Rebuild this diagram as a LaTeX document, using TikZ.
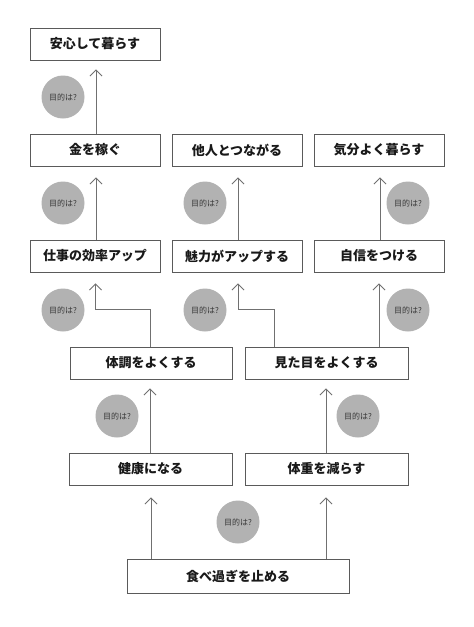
\documentclass[tikz,border=0pt]{standalone}
\usepackage{fontspec}
\newfontfamily\jp{Noto Sans CJK JP}
\usetikzlibrary{arrows.meta}
\definecolor{boxline}{HTML}{5A5A5A}
\definecolor{arrline}{HTML}{707070}
\definecolor{circfill}{HTML}{B2B2B2}
\definecolor{circtext}{HTML}{383838}
\tikzset{
  box/.style={draw=boxline, line width=0.9pt, fill=white, minimum width=130pt, minimum height=32pt, inner sep=0pt, font=\jp\bfseries\fontsize{13}{15}\selectfont, text=black!90},
  purpose/.style={circle, fill=circfill, minimum size=43pt, inner sep=0pt, font=\jp\fontsize{8}{9}\selectfont, text=circtext},
  arr/.style={draw=arrline, line width=0.9pt, -{Straight Barb[length=6pt,width=12pt,line width=0.9pt]}},
}
\begin{document}
\begin{tikzpicture}[x=1pt,y=-1pt]
\useasboundingbox (0,0) rectangle (474,627);
\fill[white] (0,0) rectangle (474,627);
% boxes
\node[box] (A) at (95,44) {安心して暮らす};
\node[box] (B) at (95,150) {金を稼ぐ};
\node[box] (C) at (237,150) {他人とつながる};
\node[box] (D) at (379,150) {気分よく暮らす};
\node[box] (E) at (95,256) {仕事の効率アップ};
\node[box] (F) at (237,256) {魅力がアップする};
\node[box] (G) at (379,256) {自信をつける};
\node[box, minimum width=162pt] (H) at (151,363) {体調をよくする};
\node[box, minimum width=163pt] (I) at (326.5,363) {見た目をよくする};
\node[box, minimum width=163pt] (J) at (150.5,469) {健康になる};
\node[box, minimum width=163pt] (K) at (326.5,469) {体重を減らす};
\node[box, minimum width=222pt, minimum height=34pt] (L) at (238,576) {食べ過ぎを止める};
% circles
\node[purpose] (p1) at (63,97) {目的は?};
\node[purpose] (p2) at (63,203) {目的は?};
\node[purpose] (p3) at (205,203) {目的は?};
\node[purpose] (p4) at (408,203) {目的は?};
\node[purpose] (p5) at (63,310) {目的は?};
\node[purpose] (p6) at (205,310) {目的は?};
\node[purpose] (p7) at (408,310) {目的は?};
\node[purpose] (p8) at (117,416) {目的は?};
\node[purpose] (p9) at (358,416) {目的は?};
\node[purpose] (p10) at (238,522) {目的は?};
% connectors
\coordinate (hy) at (0,309);
\draw[arr, shorten >=9pt] (B.north -| 96,0) -- (A.south -| 96,0);
\draw[arr, shorten >=11pt] (E.north -| 96,0) -- (B.south -| 96,0);
\draw[arr, shorten >=11pt] (F.north -| 238,0) -- (C.south -| 238,0);
\draw[arr, shorten >=11pt] (G.north -| 380,0) -- (D.south -| 380,0);
\draw[arr, shorten >=11pt] (H.north -| 150,0) |- (hy -| 150,0) -| (E.south -| 95.5,0);
\draw[arr, shorten >=11pt] (I.north -| 274,0) |- (hy -| 274,0) -| (F.south -| 238,0);
\draw[arr, shorten >=11pt] (I.north -| 379,0) -- (G.south -| 379,0);
\draw[arr, shorten >=9pt] (J.north -| 150,0) -- (H.south -| 150,0);
\draw[arr, shorten >=9pt] (K.north -| 326,0) -- (I.south -| 326,0);
\draw[arr, shorten >=12pt] (L.north -| 151,0) -- (J.south -| 151,0);
\draw[arr, shorten >=12pt] (L.north -| 326,0) -- (K.south -| 326,0);
\end{tikzpicture}
\end{document}
